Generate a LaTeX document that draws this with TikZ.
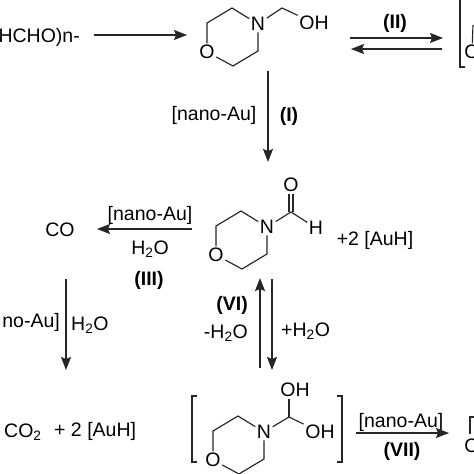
\documentclass[tikz,border=0pt]{standalone}
\usepackage{fontspec}
\setmainfont{Liberation Sans}
\usetikzlibrary{arrows.meta}
\begin{document}
\begin{tikzpicture}[
      x=1pt, y=-1pt,
      font=\fontsize{19.5}{22}\selectfont,
      bond/.style={draw=black!85, line width=1.15pt},
      rxn/.style={draw=black!85, line width=1.3pt, -{Stealth[length=13pt,width=10pt,inset=2pt]}},
      atom/.style={inner sep=1.5pt},
      lab/.style={inner sep=0pt},
      tag/.style={inner sep=0pt, font=\fontsize{19.5}{22}\selectfont\bfseries}
    ]
    \clip (0,0) rectangle (474,474);
    \fill[white] (0,0) rectangle (474,474);

    % morpholine rings
    \foreach \rn/\ox/\oy in {a/207/52, b/216/255, c/213/460} {
      \node[atom] (O\rn) at (\ox,\oy) {O};
      \node[atom] (N\rn) at (\ox+51,\oy-28) {N};
      \draw[bond] (O\rn) -- ++(0,-29) -- ++(25,-15) -- (N\rn);
      \draw[bond] (N\rn) -- ++(0,27) -- ++(-25,15) -- (O\rn);
    }

    % side chains
    \node[atom] (OHa) at (314,23) {OH};
    \coordinate (Ca) at (282,8);
    \draw[bond] (Na) -- (Ca) -- (OHa);

    \node[atom] (Ob) at (291,185) {O};
    \node[atom] (Hb) at (316,228) {H};
    \coordinate (Cb) at (291,212);
    \draw[bond] (Nb) -- (Cb) -- (Hb);
    \draw[bond] ([xshift=-2pt]Ob.south) -- ([xshift=-2pt]Cb);
    \draw[bond] ([xshift=2pt]Ob.south) -- ([xshift=2pt]Cb);

    \node[atom] (OHc) at (295,390) {OH};
    \node[atom] (OHd) at (320,432) {OH};
    \coordinate (Cc) at (289,417);
    \draw[bond] (Nc) -- (Cc) -- (OHd);
    \draw[bond] (Cc) -- (Cc |- OHc.south);

    % species and labels
    \node[lab, anchor=east] (hcho) at (80,37) {HCHO)n-};
    \node[lab] (auh) at (375,240) {+2 [AuH]};
    \node[lab] (co) at (60,230) {CO};
    \node[lab, anchor=west] (coo) at (4,432) {CO\textsubscript{2}};
    \node[lab, anchor=west] (auhb) at (54,431) {+ 2 [AuH]};

    \node[tag] (tagII) at (395,23) {(II)};
    \node[lab] (nanoI) at (214,115) {[nano-Au]};
    \node[tag] (tagI) at (289,116) {(I)};
    \node[lab] (nanoIII) at (150,215) {[nano-Au]};
    \node[lab] (wIII) at (150,249) {H\textsubscript{2}O};
    \node[tag] (tagIII) at (149,280) {(III)};
    \node[lab, anchor=east] (nanoIV) at (60,322) {no-Au]};
    \node[lab, anchor=west] (wIV) at (71,325) {H\textsubscript{2}O};
    \node[tag, anchor=east] (tagVI) at (248,305) {(VI)};
    \node[lab, anchor=east] (wVI) at (248,333) {-H\textsubscript{2}O};
    \node[lab, anchor=west] (wVIb) at (281,331) {+H\textsubscript{2}O};
    \node[lab] (nanoVII) at (401,422) {[nano-Au]};
    \node[tag] (tagVII) at (402,451) {(VII)};

    % cut off at the right edge
    \node[atom] (Oe) at (472,52) {O};
    \node[atom] (Of) at (472,446) {O};
    \coordinate (be) at (473,25);
    \draw[bond] (be) -- (Oe);

    % brackets
    \draw[bond] (465,-5) -- (460,-5) -- (460,67) -- (465,67);
    \draw[bond] (197,396) -- (192,396) -- (192,462) -- (197,462);
    \draw[bond] (337,396) -- (342,396) -- (342,462) -- (337,462);
    \draw[bond] (474,417) -- (470,417) -- (470,434);

    % arrows
    \coordinate (a1s) at (94,35);    \coordinate (a1e) at (187,35);
    \coordinate (a2s) at (350,38);   \coordinate (a2e) at (443,38);
    \coordinate (a3s) at (442,49);   \coordinate (a3e) at (351,49);
    \coordinate (a4s) at (268,71);   \coordinate (a4e) at (268,162);
    \coordinate (a5s) at (192,229);  \coordinate (a5e) at (97,229);
    \coordinate (a6s) at (66,279);   \coordinate (a6e) at (66,370);
    \coordinate (a7s) at (260,368);  \coordinate (a7e) at (260,278);
    \coordinate (a8s) at (272,279);  \coordinate (a8e) at (272,370);
    \coordinate (a9s) at (356,433);  \coordinate (a9e) at (449,433);
    \foreach \an in {1,...,9} {
      \draw[rxn] (a\an s) -- (a\an e);
    }
  \end{tikzpicture}
\end{document}
